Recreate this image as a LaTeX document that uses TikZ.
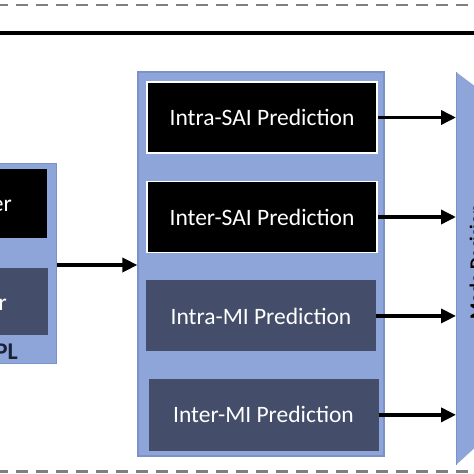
\documentclass[tikz,border=0pt]{standalone}
\usepackage{fontspec}
\setmainfont{Carlito}
\usetikzlibrary{positioning,arrows.meta}
\definecolor{panelblue}{HTML}{8EA5DA}
\definecolor{paneledge}{HTML}{7B92C9}
\definecolor{slate}{HTML}{444E6A}
\definecolor{dashgray}{HTML}{7F7F7F}
\definecolor{navytext}{HTML}{1B2238}

\begin{document}
\begin{tikzpicture}[x=1pt,y=-1pt,->,>={Triangle[length=15pt,width=14pt]},node distance=27pt,
    panel/.style={draw=paneledge,fill=panelblue,line width=1.2pt},
    box font/.style={font=\fontsize{23.5}{25}\selectfont},
    sai box/.style={draw=white,fill=black,line width=1.5pt,text=white,minimum width=230pt,minimum height=71pt,inner sep=0pt,box font},
    mi box/.style={draw=none,fill=slate,text=white,minimum width=230pt,minimum height=71pt,inner sep=0pt,box font},
    link/.style={line width=3.5pt}]

    \useasboundingbox (0,0) rectangle (474,474);

    % separators
    \draw[-,dashgray,line width=2pt,dash pattern=on 12pt off 8pt] (-4,5) -- (480,5);
    \draw[-,black,line width=4pt] (-4,32.5) -- (480,32.5);
    \draw[-,dashgray,line width=3pt,dash pattern=on 12pt off 8pt] (-4,471) -- (480,471);

    % left panel
    \node[panel,minimum width=210pt,minimum height=200pt,anchor=north east] (dpl) at (57,163) {};
    \node[sai box,minimum width=200pt,minimum height=69pt,anchor=north east,draw=none] (saibuf) at (48,168) {};
    \node[mi box,minimum width=200pt,minimum height=67pt,anchor=north east] (mibuf) at (48,268) {};
    \node[anchor=east,text=white,box font,inner sep=0pt] (saibuftext) at (12,203) {SAI Buffer};
    \node[anchor=east,text=white,box font,inner sep=0pt] (mibuftext) at (7,302) {MI Buffer};
    \node[anchor=east,text=navytext,font=\bfseries\fontsize{24}{25}\selectfont,inner sep=0pt] (dpltext) at (18,352) {DPL};

    % prediction panel
    \node[panel,minimum width=246pt,minimum height=384pt] (pred) at (261,264) {};
    \node[sai box] (intrasai) at (262,117.5) {Intra-SAI Prediction};
    \node[sai box,below=of intrasai] (intersai) {Inter-SAI Prediction};
    \node[mi box,below=of intersai,xshift=-1pt] (intrami) {Intra-MI Prediction};
    \node[mi box,below=of intrami,xshift=2.5pt,minimum height=72pt] (intermi) {Inter-MI Prediction};

    % decision block
    \fill[panelblue] (456,72) -- (480,90) -- (480,443) -- (456,465) -- cycle;
    \draw[-,paneledge,line width=0.8pt] (456,72) -- (456,465);
    \coordinate (dec) at (456,264);
    \node[rotate=90,anchor=north,font=\bfseries\fontsize{18.5}{20}\selectfont,inner sep=0pt] (dectext) at (469.5,262) {Mode Decision};

    % connectors
    \draw[link] (dpl.east |- 0,265) -- (pred.west |- 0,265);
    \foreach \src in {intrasai,intersai,intrami,intermi}{
        \draw[link] (\src.east) -- (\src.east -| dec);
    }

\end{tikzpicture}
\end{document}
